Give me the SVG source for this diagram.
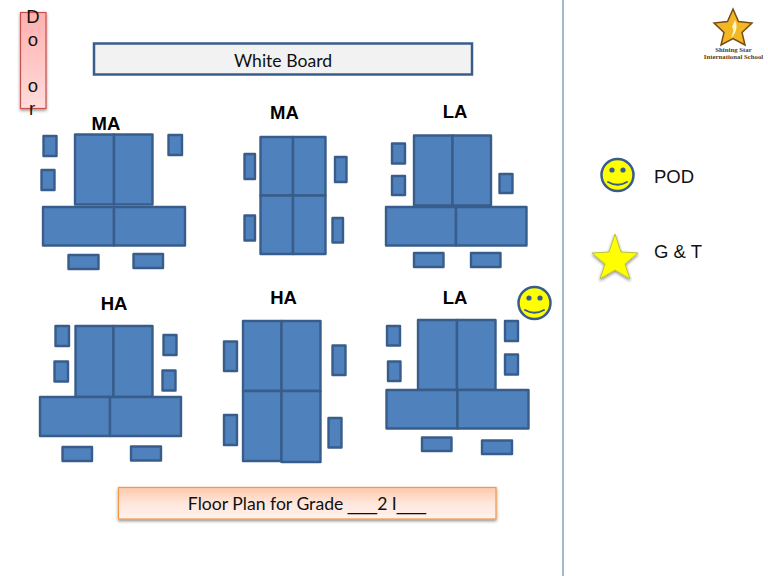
<svg xmlns="http://www.w3.org/2000/svg" width="768" height="576" viewBox="0 0 768 576">
<style>
.d{fill:#4f81bd;stroke:#385d8a;stroke-width:2.400;stroke-linejoin:round}
.h{font:bold 18.500px "Liberation Sans",Arial,sans-serif;fill:#000;text-anchor:middle}
.c{font:17.600px Lato,"Liberation Sans",sans-serif;fill:#111;text-anchor:middle}
.u{font-family:"Liberation Sans",Arial,sans-serif}
.l{font:18.500px "Liberation Sans",Arial,sans-serif;fill:#111}
.door{font:18.500px "Liberation Sans",Arial,sans-serif;fill:#111;text-anchor:middle}
.face{fill:#ffff00;stroke:#385d8a;stroke-width:2.500}
.eye{fill:#385d8a;stroke:none}
.smile{fill:none;stroke:#385d8a;stroke-width:2;stroke-linecap:round}
.logo{font-family:"Liberation Serif",serif;font-weight:bold;font-size:6.800px;fill:#5a3a20;text-anchor:middle}
</style>
<defs>
<linearGradient id="doorFill" x1="0" y1="0" x2="0" y2="1"><stop offset="0" stop-color="#ffb0ae"/><stop offset="1" stop-color="#ffdcdc"/></linearGradient>
<linearGradient id="titleFill" x1="0" y1="0" x2="0" y2="1"><stop offset="0" stop-color="#ffc9ac"/><stop offset=".5" stop-color="#ffe6dc"/><stop offset="1" stop-color="#fff2ec"/></linearGradient>
<filter id="sh" x="-20%" y="-20%" width="140%" height="140%"><feDropShadow dx="0" dy="1.500" stdDeviation="1.500" flood-color="#000" flood-opacity=".45"/></filter>
<g id="smiley"><circle r="16" class="face"/><circle cx="-5.500" cy="-5" r="2.600" class="eye"/><circle cx="5.500" cy="-5" r="2.600" class="eye"/><path d="M-9.500 7Q0 12.500 9.500 7" class="smile"/></g>
</defs>
<rect width="768" height="576" fill="#fff"/>
<line x1="563" y1="0" x2="563" y2="576" stroke="#4a7090" stroke-width="1"/>

<g id="door">
<rect x="20.500" y="12.500" width="25.500" height="96" fill="url(#doorFill)" stroke="#c9504d" stroke-width="1.200" filter="url(#sh)"/>
<text class="door" x="33" y="23">D</text><text class="door" x="33" y="46">o</text><text class="door" x="33" y="92">o</text><text class="door" x="32" y="115">r</text>
</g>
<g id="whiteboard">
<rect x="94" y="43.500" width="378" height="31" fill="#f2f2f2" stroke="#385d8a" stroke-width="2.500"/>
<text class="c" x="283" y="66.500">White Board</text>
</g>

<g id="group-ma-1">
<text class="h" x="106" y="130">MA</text>
<rect class="d" x="75" y="134.500" width="39" height="70"/><rect class="d" x="114" y="134.500" width="38.500" height="70"/>
<rect class="d" x="43" y="207" width="71" height="38.500"/><rect class="d" x="114" y="207" width="71" height="38.500"/>
<rect class="d" x="43.500" y="136" width="13" height="20"/><rect class="d" x="168.500" y="135" width="13.500" height="20"/><rect class="d" x="41.500" y="170" width="13" height="20"/>
<rect class="d" x="68.500" y="255" width="30" height="14"/><rect class="d" x="133.500" y="254" width="29.500" height="14"/>
</g>
<g id="group-ma-2">
<text class="h" x="284.500" y="119">MA</text>
<rect class="d" x="260.500" y="137" width="32.500" height="58.500"/><rect class="d" x="293" y="137" width="32.500" height="58.500"/>
<rect class="d" x="260.500" y="195.500" width="32.500" height="58.500"/><rect class="d" x="293" y="195.500" width="32.500" height="58.500"/>
<rect class="d" x="244.500" y="154" width="10.500" height="25"/><rect class="d" x="335" y="157" width="11.500" height="25"/>
<rect class="d" x="244.500" y="215.500" width="10.500" height="25"/><rect class="d" x="332.500" y="218" width="10.500" height="24.500"/>
</g>
<g id="group-la-1">
<text class="h" x="455" y="118">LA</text>
<rect class="d" x="414" y="135.500" width="38.500" height="70"/><rect class="d" x="452.500" y="135.500" width="38.500" height="70"/>
<rect class="d" x="386" y="207" width="70" height="38.500"/><rect class="d" x="456" y="207" width="70.500" height="38.500"/>
<rect class="d" x="392" y="143.500" width="13" height="20"/><rect class="d" x="392" y="176" width="13" height="19"/><rect class="d" x="499.500" y="174" width="13" height="19"/>
<rect class="d" x="414" y="253" width="29.500" height="14"/><rect class="d" x="471" y="253" width="29.500" height="14"/>
</g>
<g id="group-ha-1">
<text class="h" x="114" y="310">HA</text>
<rect class="d" x="75.500" y="326" width="38" height="71"/><rect class="d" x="113.500" y="326" width="39" height="71"/>
<rect class="d" x="40" y="397" width="70" height="39"/><rect class="d" x="110" y="397" width="71" height="39"/>
<rect class="d" x="55.500" y="326" width="13.500" height="20"/><rect class="d" x="54.500" y="361.500" width="13.500" height="20"/>
<rect class="d" x="163.500" y="335" width="13" height="20"/><rect class="d" x="162.500" y="370.500" width="13" height="20"/>
<rect class="d" x="62.500" y="447" width="29.500" height="14"/><rect class="d" x="131" y="446.500" width="30" height="14"/>
</g>
<g id="group-ha-2">
<text class="h" x="283.500" y="304">HA</text>
<rect class="d" x="243" y="321" width="38.500" height="70"/><rect class="d" x="281.500" y="321" width="39" height="70"/>
<rect class="d" x="243" y="391" width="38.500" height="70"/><rect class="d" x="281.500" y="391" width="39" height="71"/>
<rect class="d" x="224" y="341.500" width="13" height="29.500"/><rect class="d" x="332.500" y="345.500" width="13" height="29.500"/>
<rect class="d" x="224" y="415" width="13" height="30"/><rect class="d" x="328.500" y="418" width="13" height="29.500"/>
</g>
<g id="group-la-2">
<text class="h" x="455" y="304">LA</text>
<rect class="d" x="418" y="320" width="39" height="70"/><rect class="d" x="457" y="320" width="38.500" height="70"/>
<rect class="d" x="386.500" y="390" width="71" height="38.500"/><rect class="d" x="457.500" y="390" width="71" height="38.500"/>
<rect class="d" x="387" y="326" width="13" height="19.500"/><rect class="d" x="388" y="361.500" width="12.500" height="19.500"/>
<rect class="d" x="505" y="321" width="13" height="20"/><rect class="d" x="505" y="354.500" width="13" height="20"/>
<rect class="d" x="422" y="437.500" width="29.500" height="13.500"/><rect class="d" x="482" y="440.500" width="30" height="13.500"/>
</g>
<use href="#smiley" x="534.500" y="303"/>

<g id="title">
<rect x="118.500" y="487.500" width="377.500" height="31.500" fill="url(#titleFill)" stroke="#f79646" stroke-width="1.200" filter="url(#sh)"/>
<text class="c" x="307" y="510">Floor Plan for Grade <tspan class="u">___</tspan>2 I<tspan class="u">___</tspan></text>
</g>

<g id="legend-pod">
<use href="#smiley" x="617.500" y="175"/>
<text class="l" x="654" y="183">POD</text>
</g>
<g id="legend-gt">
<polygon points="615,234 621,252 638,253 625,264 630,279 615,270 600,279 605,264 592,253 609,252" fill="#ffff00" stroke="#b8c040" stroke-width="1" filter="url(#sh)"/>
<text class="l" x="654" y="258">G &amp; T</text>
</g>
<g id="logo">
<polygon points="733,9 738.500,21.500 752,23 742,32.500 745,45 733,38.500 721,45 724,32.500 714,23 727.500,21.500" fill="#f2b824" stroke="#7a4a14" stroke-width="1.500"/>
<path d="M735 20Q739 28 733 36L731 38Q735 29 732 27Z" fill="#fff3cf"/>
<text class="logo" x="733.500" y="52">Shining Star</text>
<text class="logo" x="733.500" y="59">International School</text>
</g>
</svg>
